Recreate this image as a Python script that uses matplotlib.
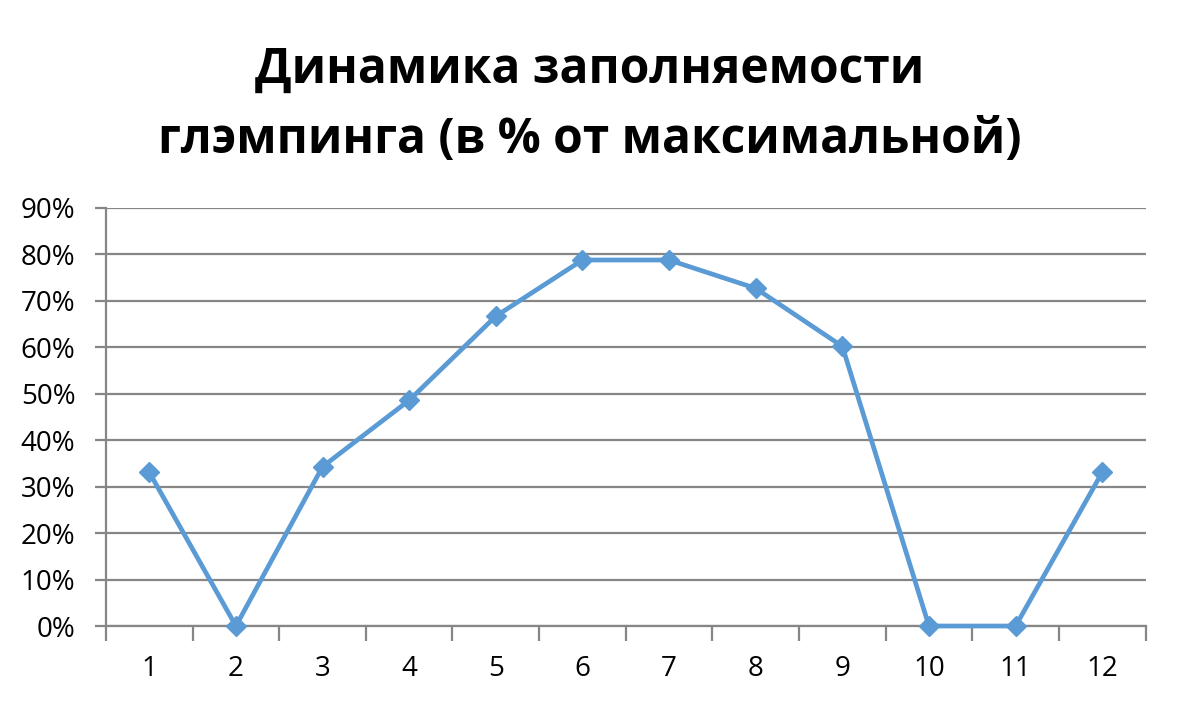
import matplotlib
matplotlib.use("Agg")
import matplotlib.pyplot as plt
from matplotlib.ticker import FixedLocator, PercentFormatter

title_lines = ["Динамика заполняемости", "глэмпинга (в % от максимальной)"]
categories = ["1", "2", "3", "4", "5", "6", "7", "8", "9", "10", "11", "12"]
values = [0.331, 0.0, 0.343, 0.486, 0.667, 0.788, 0.788, 0.727, 0.602, 0.0, 0.0, 0.331]
y_ticks = [0.0, 0.1, 0.2, 0.3, 0.4, 0.5, 0.6, 0.7, 0.8, 0.9]

plt.rcParams['font.family'] = ['Open Sans', 'DejaVu Sans']

fig = plt.figure(figsize=(11.8, 7.06), dpi=100)
ax = fig.add_axes([0.0898, 0.1133, 0.881, 0.5921])

x = list(range(1, len(categories) + 1))
ax.plot(x, values, color="#5B9BD5", lw=3.4, marker="D", markersize=10,
        markeredgecolor="#5B9BD5", markerfacecolor="#5B9BD5", zorder=3,
        clip_on=False)

ax.set_xlim(0.5, len(categories) + 0.5)
ax.set_ylim(0, 0.9)
ax.set_yticks(y_ticks)
ax.yaxis.set_major_formatter(PercentFormatter(1.0, decimals=0))
ax.set_xticks(x)
ax.set_xticklabels(categories)
ax.xaxis.set_minor_locator(FixedLocator([i + 0.5 for i in range(0, len(categories) + 1)]))

grid_col = "#868686"
ax.grid(axis="y", color=grid_col, lw=1.6)
ax.set_axisbelow(True)
for s in ["top", "right"]:
    ax.spines[s].set_visible(False)
for s in ["left", "bottom"]:
    ax.spines[s].set_color(grid_col)
    ax.spines[s].set_linewidth(1.6)

ax.tick_params(axis="y", which="major", length=8, width=1.6, color=grid_col,
               labelsize=20, pad=14, labelcolor="black")
ax.tick_params(axis="x", which="major", length=0, labelsize=20, pad=21,
               labelcolor="black")
ax.tick_params(axis="x", which="minor", length=11, width=1.6, color=grid_col)

fig.text(0.5, 1 - 83 / 706, title_lines[0], ha="center", va="baseline",
         fontsize=34.5, fontweight="bold", color="black")
fig.text(0.5, 1 - 153 / 706, title_lines[1], ha="center", va="baseline",
         fontsize=34.5, fontweight="bold", color="black")

fig.savefig("out.png", dpi=100)
